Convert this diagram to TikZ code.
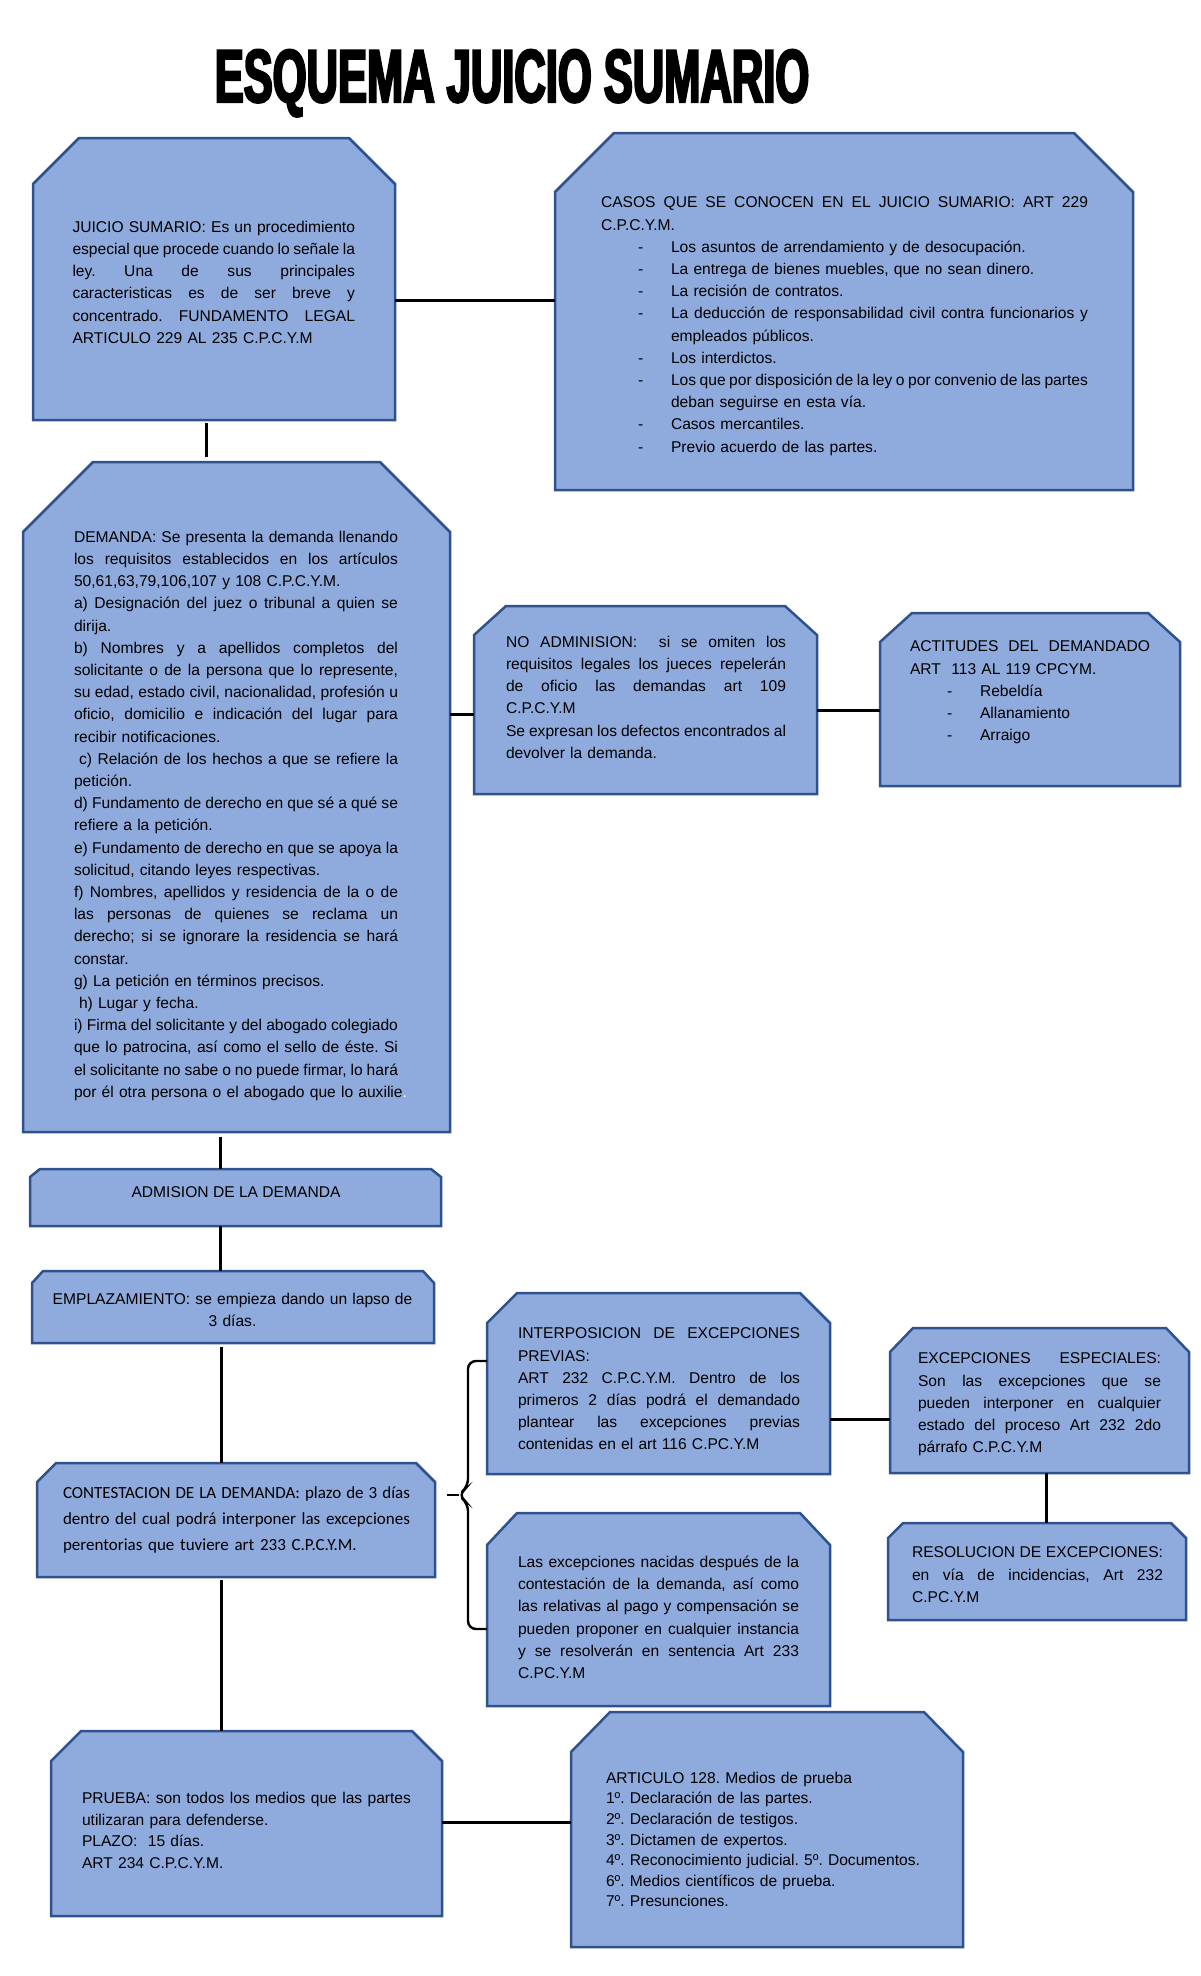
\documentclass[tikz,border=0pt]{standalone}
\usepackage{fontspec}
\setmainfont{Liberation Sans}
\newfontfamily\titlefont[FakeStretch=0.58,FakeBold=3]{Liberation Sans}
\newfontfamily\calfont{Carlito}
\usetikzlibrary{fit}
\definecolor{boxfill}{HTML}{8FAADC}
\definecolor{boxline}{HTML}{2F528F}
\tikzset{
  boxsty/.style={fill=boxfill, draw=boxline, line width=1.25pt, line join=miter},
  conn/.style={draw=black, line width=1.5pt},
  txt/.style={inner sep=0pt, outer sep=0pt, anchor=north west, font=\frenchspacing\fontsize{7.8}{11.1}\selectfont},
}
\newcommand\chbox[7]{%
  \draw[boxsty] (#2,#5) -- (#2,{#3+#7}) -- ({#2+#6},#3) -- ({#4-#6},#3) -- (#4,{#3+#7}) -- (#4,#5) -- cycle;
  \coordinate (#1-nw) at (#2,#3);
  \coordinate (#1-se) at (#4,#5);
  \node[fit=(#1-nw)(#1-se), inner sep=0pt, outer sep=0pt] (#1) {};
}
\newlength\myjw
\newcommand\myJ[1]{\leavevmode\hbox to \hsize{\spaceskip=0.28em plus 3em minus 0.08em\relax #1}}
\newcommand\myL[1]{\mbox{#1}}
\newcommand\myD[1]{\hspace*{18.5pt}\makebox[16.5pt][l]{-}#1}
\newcommand\myDJ[1]{\hspace*{18.5pt}\makebox[16.5pt][l]{-}\setlength\myjw{\hsize}\addtolength\myjw{-35pt}\hbox to \myjw{\spaceskip=0.28em plus 3em minus 0.08em\relax #1}}
\begin{document}
\frenchspacing
\begin{tikzpicture}[x=0.5pt,y=-0.5pt]
\useasboundingbox (0,0) rectangle (1200,1976);

% title
\node[anchor=base, inner sep=0pt, font=\titlefont\bfseries\fontsize{37.5}{40}\selectfont] (title) at (512,102) {ESQUEMA JUICIO SUMARIO};

% boxes
\chbox{juicio}{33}{138}{395}{420}{46}{46}
\chbox{casos}{555}{133}{1133}{490}{59}{59}
\chbox{demanda}{23}{462}{450}{1132}{70}{70}
\chbox{noadm}{474}{606}{817}{794}{32}{29}
\chbox{actitudes}{880}{613}{1180}{786}{32}{29}
\chbox{admision}{30}{1169}{441}{1226}{10}{8}
\chbox{emplaz}{32}{1271}{434}{1343}{11}{12}
\chbox{contest}{37}{1463}{435}{1577}{19}{19}
\chbox{interp}{487}{1293}{830}{1474}{30}{30}
\chbox{excesp}{890}{1328}{1189}{1473}{23}{24}
\chbox{resol}{888}{1523}{1186}{1620}{15}{15}
\chbox{lasexc}{487}{1513}{830}{1706}{30}{32}
\chbox{prueba}{51}{1731}{442}{1916}{30}{30}
\chbox{articulo}{571}{1712}{963}{1947}{39}{40}

% texts
\node[txt, text width=141.25pt] (juicioT) at (72.5,221) {%
\myJ{JUICIO SUMARIO: Es un procedimiento}\\
\myJ{especial que procede cuando lo señale la}\\
\myJ{ley. Una de sus principales}\\
\myJ{caracteristicas es de ser breve y}\\
\myJ{concentrado. FUNDAMENTO LEGAL}\\
\myL{ARTICULO 229 AL 235 C.P.C.Y.M}};

\node[txt, text width=243.5pt] (casosT) at (601,197) {%
\myJ{CASOS QUE SE CONOCEN EN EL JUICIO SUMARIO: ART 229}\\
C.P.C.Y.M.\\
\myD{Los asuntos de arrendamiento y de desocupación.}\\
\myD{La entrega de bienes muebles, que no sean dinero.}\\
\myD{La recisión de contratos.}\\
\myDJ{La deducción de responsabilidad civil contra funcionarios y}\\
\hspace*{35pt}empleados públicos.\\
\myD{Los interdictos.}\\
\myDJ{Los que por disposición de la ley o por convenio de las partes}\\
\hspace*{35pt}deban seguirse en esta vía.\\
\myD{Casos mercantiles.}\\
\myD{Previo acuerdo de las partes.}};

\node[txt, text width=162pt] (demandaT) at (74,531) {%
\myJ{DEMANDA: Se presenta la demanda llenando}\\
\myJ{los requisitos establecidos en los artículos}\\
\myL{50,61,63,79,106,107 y 108 C.P.C.Y.M.}\\
\myJ{a) Designación del juez o tribunal a quien se}\\
dirija.\\
\myJ{b) Nombres y a apellidos completos del}\\
\myJ{solicitante o de la persona que lo represente,}\\
\myJ{su edad, estado civil, nacionalidad, profesión u}\\
\myJ{oficio, domicilio e indicación del lugar para}\\
\myL{recibir notificaciones.}\\
\myJ{\hspace*{2.5pt}c) Relación de los hechos a que se refiere la}\\
petición.\\
\myJ{d) Fundamento de derecho en que sé a qué se}\\
\myL{refiere a la petición.}\\
\myJ{e) Fundamento de derecho en que se apoya la}\\
\myL{solicitud, citando leyes respectivas.}\\
\myJ{f) Nombres, apellidos y residencia de la o de}\\
\myJ{las personas de quienes se reclama un}\\
\myJ{derecho; si se ignorare la residencia se hará}\\
constar.\\
\myL{g) La petición en términos precisos.}\\
\myL{\hspace*{2.5pt}h) Lugar y fecha.}\\
\myJ{i) Firma del solicitante y del abogado colegiado}\\
\myJ{que lo patrocina, así como el sello de éste. Si}\\
\myJ{el solicitante no sabe o no puede firmar, lo hará}\\
\myL{por él otra persona o el abogado que lo auxilie{\color{white}.}}};

\node[txt, text width=140pt] (noadmT) at (506,636) {%
\myJ{NO ADMINISION: \ si se omiten los}\\
\myJ{requisitos legales los jueces repelerán}\\
\myJ{de oficio las demandas art 109}\\
C.P.C.Y.M\\
\myJ{Se expresan los defectos encontrados al}\\
\myL{devolver la demanda.}};

\node[txt, text width=120pt] (actitudesT) at (910,641) {%
\myJ{ACTITUDES DEL DEMANDADO}\\
\myL{ART \ 113 AL 119 CPCYM.}\\
\myD{Rebeldía}\\
\myD{Allanamiento}\\
\myD{Arraigo}};

\node[txt, anchor=north] (admisionT) at (236,1187) {ADMISION DE LA DEMANDA};

\node[txt, anchor=north, text width=205pt, align=center] (emplazT) at (232.5,1293) {%
\myL{EMPLAZAMIENTO: se empieza dando un lapso de}\\
3 días.};

\node[txt, text width=173.5pt, font=\calfont\frenchspacing\fontsize{8.5}{13}\selectfont] (contestT) at (63,1487) {%
\myJ{CONTESTACION DE LA DEMANDA: plazo de 3 días}\\
\myJ{dentro del cual podrá interponer las excepciones}\\
\myL{perentorias que tuviere art 233 C.P.C.Y.M.}};

\node[txt, text width=141pt] (interpT) at (518,1328) {%
\myJ{INTERPOSICION DE EXCEPCIONES}\\
PREVIAS:\\
\myJ{ART 232 C.P.C.Y.M. Dentro de los}\\
\myJ{primeros 2 días podrá el demandado}\\
\myJ{plantear las excepciones previas}\\
\myL{contenidas en el art 116 C.PC.Y.M}};

\node[txt, text width=121.5pt] (excespT) at (918,1353) {%
\myJ{EXCEPCIONES ESPECIALES:}\\
\myJ{Son las excepciones que se}\\
\myJ{pueden interponer en cualquier}\\
\myJ{estado del proceso Art 232 2do}\\
\myL{párrafo C.P.C.Y.M}};

\node[txt, text width=125.5pt] (resolT) at (912,1547) {%
\myJ{RESOLUCION DE EXCEPCIONES:}\\
\myJ{en vía de incidencias, Art 232}\\
C.PC.Y.M};

\node[txt, text width=140.5pt] (lasexcT) at (518,1556) {%
\myJ{Las excepciones nacidas después de la}\\
\myJ{contestación de la demanda, así como}\\
\myJ{las relativas al pago y compensación se}\\
\myJ{pueden proponer en cualquier instancia}\\
\myJ{y se resolverán en sentencia Art 233}\\
C.PC.Y.M};

\node[txt, text width=164.5pt, font=\frenchspacing\fontsize{7.8}{10.85}\selectfont] (pruebaT) at (82,1792) {%
\myJ{PRUEBA: son todos los medios que las partes}\\
\myL{utilizaran para defenderse.}\\
\myL{PLAZO: \ 15 días.}\\
\myL{ART 234 C.P.C.Y.M.}};

\node[txt, text width=170pt, font=\frenchspacing\fontsize{7.8}{10.3}\selectfont] (articuloT) at (606,1772) {%
\myL{ARTICULO 128. Medios de prueba}\\
\myL{1º. Declaración de las partes.}\\
\myL{2º. Declaración de testigos.}\\
\myL{3º. Dictamen de expertos.}\\
\myL{4º. Reconocimiento judicial. 5º. Documentos.}\\
\myL{6º. Medios científicos de prueba.}\\
\myL{7º. Presunciones.}};

% connectors
\draw[conn] (juicio.east |- 0,300) -- (casos.west |- 0,300);
\draw[conn, shorten <=1.5pt, shorten >=2.5pt] (juicio.south -| 206,0) -- (demanda.north -| 206,0);
\draw[conn] (demanda.east |- 0,714) -- (noadm.west |- 0,714);
\draw[conn] (noadm.east |- 0,710) -- (actitudes.west |- 0,710);
\draw[conn, shorten <=2.5pt] (demanda.south -| 220,0) -- (admision.north -| 220,0);
\draw[conn] (admision.south -| 220,0) -- (emplaz.north -| 220,0);
\draw[conn, shorten <=2pt] (emplaz.south -| 221,0) -- (contest.north -| 221,0);
\draw[conn, shorten <=1.5pt] (contest.south -| 221,0) -- (prueba.north -| 221,0);
\draw[conn] (interp.east |- 0,1419) -- (excesp.west |- 0,1419);
\draw[conn] (excesp.south -| 1046,0) -- (resol.north -| 1046,0);
\draw[conn] (prueba.east |- 0,1822) -- (articulo.west |- 0,1822);
% brace
\draw[conn, line width=1.2pt, rounded corners=4pt] (interp.west |- 0,1361) -- (468,1361) -- (468,1487) -- (458,1495) -- (468,1503) -- (468,1629) -- (lasexc.west |- 0,1629);
\draw[conn, line width=1.4pt, shorten <=6pt] (contest.east |- 0,1495) -- (459,1495);
\end{tikzpicture}
\end{document}
